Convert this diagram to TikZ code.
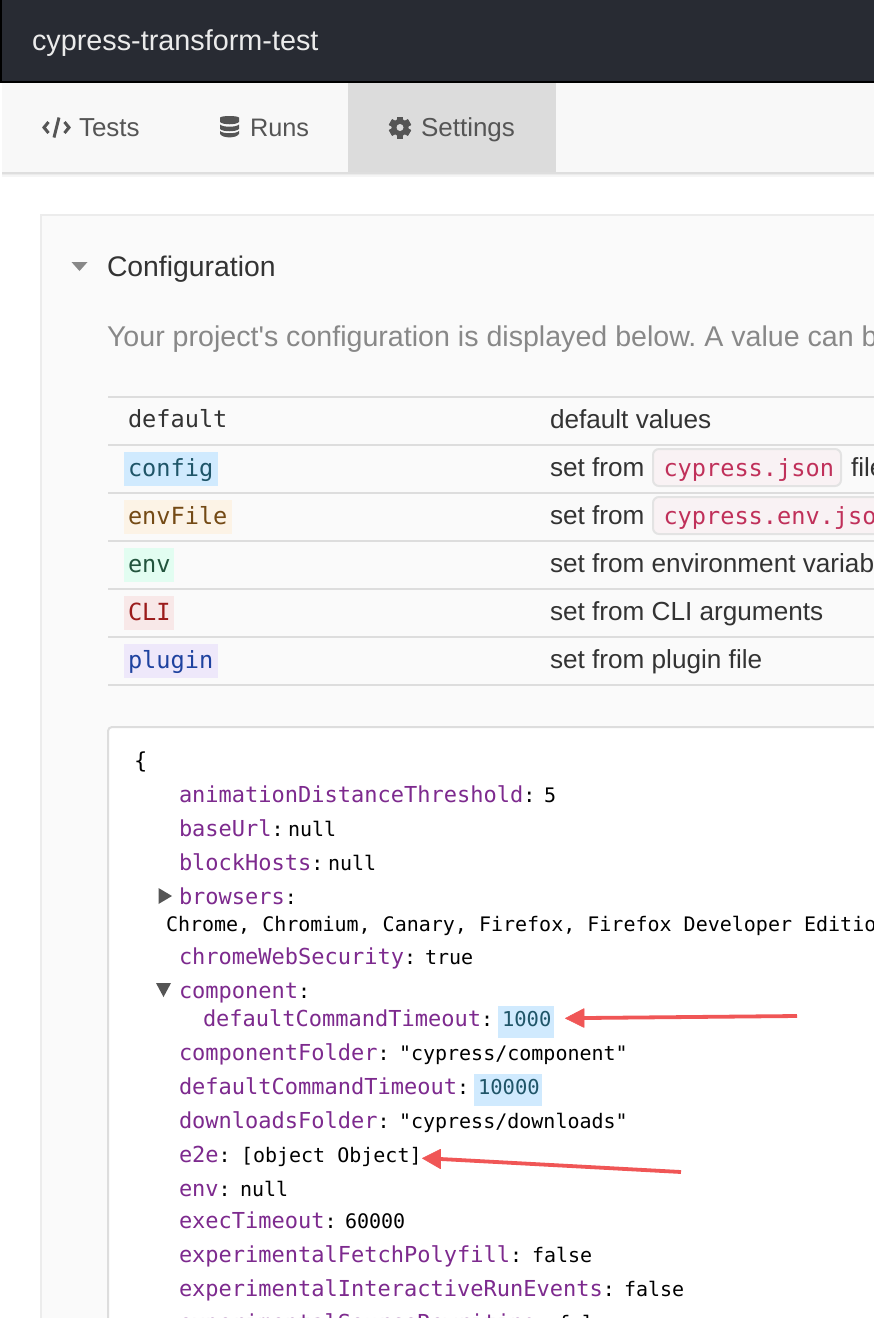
\documentclass[tikz,border=0pt]{standalone}
\usepackage{fontspec}
\setmainfont{Liberation Sans}
\setmonofont{DejaVu Sans Mono}
\newfontfamily\plainsans{Liberation Sans}
\definecolor{barbg}{HTML}{282B33}
\definecolor{navbg}{HTML}{F8F8F8}
\definecolor{navon}{HTML}{DCDCDC}
\definecolor{navtx}{HTML}{555555}
\definecolor{panelbg}{HTML}{FAFAFA}
\definecolor{panelln}{HTML}{ECECEC}
\definecolor{rule}{HTML}{DDDDDD}
\definecolor{bodytx}{HTML}{333333}
\definecolor{mutedtx}{HTML}{888888}
\definecolor{keytx}{HTML}{7D2A8E}
\definecolor{arrowred}{HTML}{F05656}
\definecolor{cfgbg}{HTML}{D0EAFE}\definecolor{cfgtx}{HTML}{1F5568}
\definecolor{envfbg}{HTML}{FCF3E6}\definecolor{envftx}{HTML}{744A15}
\definecolor{envbg}{HTML}{E2FDF1}\definecolor{envtx}{HTML}{22543D}
\definecolor{clibg}{HTML}{F8E8E8}\definecolor{clitx}{HTML}{9B1C1C}
\definecolor{plugbg}{HTML}{EEE8FA}\definecolor{plugtx}{HTML}{1E429F}
\definecolor{chipbg}{HTML}{F9F2F4}\definecolor{chipln}{HTML}{E3E3E3}\definecolor{chiptx}{HTML}{C0305A}
\tikzset{
  x=1pt,y=-1pt,
  tx/.style={anchor=base west,inner sep=0pt,outer sep=0pt},
  navlabel/.style={tx,text=navtx,font=\fontsize{26}{30}\selectfont},
  cellmono/.style={tx,font=\fontsize{23.6}{26}\ttfamily},
  cellsans/.style={tx,text=bodytx,font=\fontsize{26.15}{30}\selectfont},
  key/.style={tx,text=keytx,font=\fontsize{22}{24}\ttfamily},
  val/.style={tx,text=black,font=\fontsize{20}{24}\ttfamily},
  hival/.style={tx,text=cfgtx,font=\fontsize{20.5}{24}\ttfamily},
  tablerule/.style={draw=rule,line width=2pt},
  chip/.style={draw=chipln,fill=chipbg,line width=2pt,rounded corners=6pt},
  callout/.style={draw=arrowred,line width=3.8pt},
  callhead/.style={fill=arrowred,draw=arrowred,line width=0.6pt,line join=round},
}
\newcommand{\keyname}[1]{#1{\fontsize{20}{24}\selectfont\color{black}:}}
\newcommand{\rowkey}[3]{\node[key] (#1) at (179,#2) {\keyname{#3}};}
\begin{document}
\begin{tikzpicture}
\useasboundingbox (0,0) rectangle (874,1318);
\begin{scope}
\clip (0,0) rectangle (874,1318);
\fill[white] (0,0) rectangle (874,1318);
% top bar
\fill[barbg] (0,0) rectangle (874,81);
\fill[black] (0,81) rectangle (874,83);
\fill[black] (0,0) rectangle (1.5,81);
\node[tx,text=white!92!black,font=\fontsize{28.8}{30}\selectfont] (title) at (32,50) {cypress-transform-test};
% nav
\fill[black!13] (2,172) rectangle (874,173.5);
\fill[black!8] (2,173.5) rectangle (874,175);
\fill[black!4] (2,175) rectangle (874,176.5);
\fill[navbg] (2,83) rectangle (874,172);
\fill[navon] (348,83) rectangle (556,172);
% code icon
\draw[navtx,line width=3pt] (48.5,122) -- (44,127.5) -- (48.5,133);
\draw[navtx,line width=3pt] (64.5,122) -- (69,127.5) -- (64.5,133);
\draw[navtx,line width=3pt] (59,117.5) -- (54,137.5);
\node[navlabel] (tests) at (79,136.5) {Tests};
% database icon
\fill[navtx] (220,120.5) arc[start angle=180,end angle=360,x radius=9.5,y radius=3.5]
  arc[start angle=0,end angle=180,x radius=9.5,y radius=3.5] -- cycle;
\fill[navtx] (220,117.5) .. controls (222,115.5) and (237,115.5) .. (239,117.5) -- (239,122) .. controls (236,125) and (223,125) .. (220,122) -- cycle;
\fill[navtx] (220,124.5) .. controls (223,127.5) and (236,127.5) .. (239,124.5) -- (239,129) .. controls (236,132) and (223,132) .. (220,129) -- cycle;
\fill[navtx] (220,131) .. controls (223,134) and (236,134) .. (239,131) -- (239,134) .. controls (236,138.5) and (223,138.5) .. (220,134) -- cycle;
\node[tx,text=navtx,font=\fontsize{25.3}{30}\selectfont] (runs) at (250,136.5) {Runs};
% gear icon
\foreach \a in {0,60,...,300}{\fill[navtx,rotate around={\a:(400,127.5)}] (396.7,116.5) rectangle (403.3,138.5);}
\fill[navtx] (400,127.5) circle[radius=8.5];
\fill[navon] (400,127.5) circle[radius=3.5];
\node[navlabel] (settings) at (421,136.5) {Settings};
% panel
\fill[panelbg,draw=panelln,line width=2pt] (41,215) rectangle (900,1340);
\fill[mutedtx] (71.5,262) -- (87.5,262) -- (79.5,271) -- cycle;
\node[tx,text=bodytx,font=\fontsize{28.35}{30}\selectfont] (cfg) at (107,276) {Configuration};
\node[tx,text=mutedtx,font={\plainsans\fontsize{28.6}{30}\selectfont\frenchspacing}] (desc) at (107,346) {Your project's configuration is displayed below. A value can be};
% table
\foreach \yy in {397,445,493,541,589,637,685}{\draw[tablerule] (108,\yy) -- (874,\yy);}
\fill[cfgbg] (124,452) rectangle (218,486);
\fill[envfbg] (124,500) rectangle (232,534);
\fill[envbg] (124,548) rectangle (174,582);
\fill[clibg] (124,596) rectangle (174,630);
\fill[plugbg] (124,644) rectangle (218,678);
\node[cellmono,text=bodytx] (c1) at (128,427) {default};
\node[cellmono,text=cfgtx] (c2) at (128,476) {config};
\node[cellmono,text=envftx] (c3) at (128,524) {envFile};
\node[cellmono,text=envtx] (c4) at (128,572) {env};
\node[cellmono,text=clitx] (c5) at (128,620) {CLI};
\node[cellmono,text=plugtx] (c6) at (128,668) {plugin};
\node[cellsans] (d1) at (550,428) {default values};
\node[cellsans] (d2) at (550,476) {set from};
\draw[chip] (653,449) rectangle (841,486);
\node[tx,text=chiptx,font=\fontsize{23.6}{26}\ttfamily] (d2c) at (663.5,476) {cypress.json};
\node[cellsans] (d2e) at (851,476) {file};
\node[cellsans] (d3) at (550,524) {set from};
\draw[chip] (653,497) rectangle (900,534);
\node[tx,text=chiptx,font=\fontsize{23.6}{26}\ttfamily] (d3c) at (663.5,524) {cypress.env.json};
\node[cellsans] (d4) at (550,572) {set from environment variables};
\node[cellsans] (d5) at (550,620) {set from CLI arguments};
\node[cellsans] (d6) at (550,668) {set from plugin file};
% code panel
\fill[white,draw=rule,line width=2pt,rounded corners=4pt] (108,727) rectangle (900,1340);
\node[tx,text=black,font=\fontsize{22}{24}\ttfamily] (brace) at (134,768) {\{};
\rowkey{k1}{802}{animationDistanceThreshold}\node[val] (v1) at (544,802) {5};
\rowkey{k2}{836}{baseUrl}\node[val] (v2) at (288,836) {null};
\rowkey{k3}{870}{blockHosts}\node[val] (v3) at (328,870) {null};
\fill[navtx] (158.5,888) -- (172,896) -- (158.5,904) -- cycle;
\rowkey{k4}{904}{browsers}
\node[val] (v4) at (166,931) {Chrome, Chromium, Canary, Firefox, Firefox Developer Edition};
\rowkey{k5}{964}{chromeWebSecurity}\node[val] (v5) at (425,964) {true};
\fill[navtx] (156,983) -- (171,983) -- (163.5,997) -- cycle;
\rowkey{k6}{998}{component}
\fill[cfgbg] (498,1006) rectangle (554,1038);
\node[key] (k7) at (203,1026) {\keyname{defaultCommandTimeout}};
\node[hival] (v7) at (502,1026) {1000};
\rowkey{k8}{1060}{componentFolder}\node[val] (v8) at (399,1060) {"cypress/component"};
\fill[cfgbg] (474,1074) rectangle (542,1106);
\rowkey{k9}{1094}{defaultCommandTimeout}\node[hival] (v9) at (478,1094) {10000};
\rowkey{k10}{1128}{downloadsFolder}\node[val] (v10) at (399,1128) {"cypress/downloads"};
\rowkey{k11}{1162}{e2e}\node[val] (v11) at (241,1162) {[object Object]};
\rowkey{k12}{1196}{env}\node[val] (v12) at (240,1196) {null};
\rowkey{k13}{1228}{execTimeout}\node[val] (v13) at (345,1228) {60000};
\rowkey{k14}{1262}{experimentalFetchPolyfill}\node[val] (v14) at (532,1262) {false};
\rowkey{k15}{1296}{experimentalInteractiveRunEvents}\node[val] (v15) at (624,1296) {false};
\rowkey{k16}{1330}{experimentalSourceRewriting}\node[val] (v16) at (558,1330) {false};
% callouts
\coordinate (a1s) at (797,1016);
\coordinate (a1t) at (565.5,1018.3);
\coordinate (a1b) at (584,1018);
\coordinate (a2s) at (681,1172);
\coordinate (a2t) at (422.5,1158.3);
\coordinate (a2b) at (440.5,1159);
\draw[callout] (a1s) -- (a1b);
\fill[callhead] (a1t) -- (584,1008.6) -- (584,1027.4) -- cycle;
\draw[callout] (a2s) -- (a2b);
\fill[callhead] (a2t) -- (440.5,1149.3) -- (440.5,1168.7) -- cycle;
\end{scope}
\end{tikzpicture}
\end{document}
